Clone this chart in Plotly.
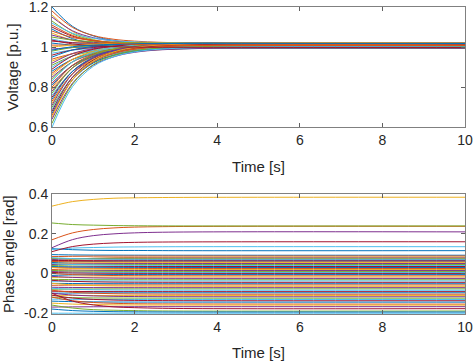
import plotly.graph_objects as go

# Sample times [s]
time_s = [0, 0.5, 1, 1.5, 2, 3, 10]

# Bus voltage trajectories [p.u.] sampled at time_s
voltage_pu = [
    [1.20, 1.103, 1.056, 1.033, 1.021, 1.013, 1.01],
    [1.18, 1.098, 1.058, 1.039, 1.030, 1.022, 1.02],
    [1.16, 1.078, 1.038, 1.019, 1.010, 1.002, 1.00],
    [1.15, 1.081, 1.047, 1.031, 1.023, 1.017, 1.015],
    [1.13, 1.066, 1.035, 1.020, 1.013, 1.007, 1.005],
    [1.12, 1.069, 1.044, 1.032, 1.026, 1.022, 1.02],
    [1.10, 1.054, 1.032, 1.021, 1.015, 1.011, 1.01],
    [1.09, 1.042, 1.018, 1.006, 1.001, 0.996, 0.995],
    [1.08, 1.048, 1.033, 1.025, 1.022, 1.019, 1.018],
    [1.07, 1.034, 1.017, 1.008, 1.004, 1.001, 1.00],
    [1.06, 1.036, 1.024, 1.018, 1.015, 1.013, 1.012],
    [1.05, 1.035, 1.027, 1.024, 1.022, 1.020, 1.02],
    [1.04, 1.022, 1.013, 1.009, 1.007, 1.006, 1.005],
    [1.03, 1.022, 1.019, 1.017, 1.016, 1.015, 1.015],
    [1.02, 1.010, 1.005, 1.002, 1.001, 1.000, 1.00],
    [1.01, 1.010, 1.010, 1.010, 1.010, 1.010, 1.01],
    [1.00, 1.010, 1.015, 1.018, 1.019, 1.020, 1.02],
    [0.99, 0.998, 1.001, 1.003, 1.004, 1.005, 1.005],
    [0.98, 0.998, 1.007, 1.011, 1.013, 1.014, 1.015],
    [0.97, 0.985, 0.993, 0.996, 0.998, 1.000, 1.00],
    [0.96, 0.986, 0.998, 1.004, 1.007, 1.009, 1.01],
    [0.95, 0.986, 1.003, 1.012, 1.016, 1.019, 1.02],
    [0.94, 0.967, 0.982, 0.988, 0.992, 0.994, 0.995],
    [0.93, 0.968, 0.987, 0.996, 1.001, 1.004, 1.005],
    [0.92, 0.968, 0.992, 1.004, 1.009, 1.014, 1.015],
    [0.91, 0.956, 0.978, 0.989, 0.995, 0.999, 1.00],
    [0.90, 0.956, 0.984, 0.997, 1.003, 1.008, 1.01],
    [0.89, 0.956, 0.989, 1.004, 1.012, 1.018, 1.02],
    [0.88, 0.939, 0.967, 0.981, 0.988, 0.993, 0.995],
    [0.87, 0.939, 0.973, 0.989, 0.997, 1.003, 1.005],
    [0.86, 0.939, 0.978, 0.996, 1.006, 1.013, 1.015],
    [0.85, 0.927, 0.964, 0.982, 0.991, 0.998, 1.00],
    [0.84, 0.927, 0.969, 0.990, 1.000, 1.007, 1.01],
    [0.83, 0.927, 0.974, 0.997, 1.009, 1.017, 1.02],
    [0.82, 0.909, 0.953, 0.974, 0.985, 0.992, 0.995],
    [0.81, 0.909, 0.958, 0.982, 0.993, 1.002, 1.005],
    [0.80, 0.910, 0.963, 0.989, 1.002, 1.012, 1.015],
    [0.79, 0.897, 0.950, 0.975, 0.987, 0.997, 1.00],
    [0.78, 0.897, 0.955, 0.982, 0.996, 1.007, 1.01],
    [0.77, 0.898, 0.960, 0.990, 1.005, 1.016, 1.02],
    [0.76, 0.880, 0.939, 0.967, 0.981, 0.991, 0.995],
    [0.75, 0.880, 0.944, 0.974, 0.990, 1.001, 1.005],
    [0.74, 0.880, 0.949, 0.982, 0.999, 1.011, 1.015],
    [0.73, 0.868, 0.935, 0.968, 0.984, 0.996, 1.00],
    [0.72, 0.868, 0.940, 0.975, 0.993, 1.006, 1.01],
    [0.71, 0.868, 0.946, 0.983, 1.001, 1.015, 1.02],
    [0.70, 0.850, 0.924, 0.960, 0.977, 0.991, 0.995],
    [0.69, 0.851, 0.929, 0.967, 0.986, 1.000, 1.005],
    [0.68, 0.851, 0.935, 0.975, 0.995, 1.010, 1.015],
    [0.67, 0.838, 0.921, 0.960, 0.980, 0.995, 1.00],
    [0.66, 0.839, 0.926, 0.968, 0.989, 1.005, 1.01],
    [0.65, 0.839, 0.931, 0.976, 0.998, 1.014, 1.02],
    [0.64, 0.821, 0.910, 0.952, 0.974, 0.990, 0.995],
    [0.62, 0.816, 0.913, 0.959, 0.982, 0.999, 1.005],
    [0.60, 0.804, 0.904, 0.952, 0.976, 0.994, 1.00],
    [1.035, 1.016, 1.007, 1.002, 1.000, 0.999, 0.998],
    [0.985, 1.002, 1.010, 1.014, 1.016, 1.018, 1.018],
    [1.11, 1.058, 1.032, 1.020, 1.014, 1.010, 1.008],
]

# Bus phase-angle trajectories [rad] sampled at time_s
phase_rad = [
    [0.125, 0.120, 0.117, 0.116, 0.116, 0.115, 0.115],
    [0.17, 0.205, 0.222, 0.230, 0.234, 0.237, 0.238],
    [0.34, 0.363, 0.374, 0.380, 0.382, 0.384, 0.385],
    [0.13, 0.171, 0.191, 0.200, 0.205, 0.209, 0.21],
    [0.255, 0.247, 0.244, 0.242, 0.241, 0.240, 0.240],
    [0.12, 0.128, 0.131, 0.133, 0.134, 0.135, 0.135],
    [0.11, 0.136, 0.148, 0.154, 0.157, 0.159, 0.16],
    [0.095, 0.0935, 0.0927, 0.0924, 0.0922, 0.092, 0.092],
    [0.085, 0.0865, 0.0873, 0.0876, 0.0878, 0.088, 0.088],
    [0.06, 0.0712, 0.0767, 0.0794, 0.0807, 0.0817, 0.082],
    [0.07, 0.0741, 0.0761, 0.077, 0.0775, 0.0779, 0.078],
    [0.075, 0.0745, 0.0742, 0.0741, 0.074, 0.074, 0.074],
    [0.08, 0.0749, 0.0724, 0.0712, 0.0706, 0.0702, 0.07],
    [0.065, 0.0655, 0.0658, 0.0659, 0.066, 0.066, 0.066],
    [0.055, 0.0586, 0.0603, 0.0612, 0.0616, 0.0619, 0.062],
    [0.06, 0.059, 0.0585, 0.0582, 0.0581, 0.058, 0.058],
    [0.05, 0.052, 0.053, 0.0535, 0.0538, 0.054, 0.054],
    [0.045, 0.0475, 0.0488, 0.0494, 0.0497, 0.0499, 0.05],
    [0.04, 0.0425, 0.0438, 0.0444, 0.0447, 0.0449, 0.045],
    [0.05, 0.0449, 0.0424, 0.0412, 0.0406, 0.0402, 0.04],
    [0.03, 0.0325, 0.0338, 0.0344, 0.0347, 0.0349, 0.035],
    [0.035, 0.0325, 0.0312, 0.0306, 0.0303, 0.0301, 0.03],
    [0.02, 0.0225, 0.0238, 0.0244, 0.0247, 0.0249, 0.025],
    [0.03, 0.0249, 0.0224, 0.0212, 0.0206, 0.0202, 0.02],
    [0.01, 0.0125, 0.0138, 0.0144, 0.0147, 0.0149, 0.015],
    [0.015, 0.0125, 0.0112, 0.0106, 0.0103, 0.0101, 0.01],
    [0.0, 0.0025, 0.0038, 0.0044, 0.0047, 0.0049, 0.005],
    [0.005, 0.0025, 0.0012, 0.0006, 0.0003, 0.0001, 0.0],
    [-0.01, -0.0075, -0.0062, -0.0056, -0.0053, -0.0051, -0.005],
    [0.0, -0.0061, -0.0091, -0.0106, -0.0113, -0.0118, -0.012],
    [-0.02, -0.019, -0.0185, -0.0182, -0.0181, -0.018, -0.018],
    [-0.015, -0.0201, -0.0226, -0.0238, -0.0244, -0.0248, -0.025],
    [-0.03, -0.031, -0.0315, -0.0318, -0.0319, -0.032, -0.032],
    [-0.04, -0.039, -0.0385, -0.0382, -0.0381, -0.038, -0.038],
    [-0.035, -0.0401, -0.0426, -0.0438, -0.0444, -0.0448, -0.045],
    [-0.05, -0.051, -0.0515, -0.0518, -0.0519, -0.052, -0.052],
    [-0.06, -0.059, -0.0585, -0.0582, -0.0581, -0.058, -0.058],
    [-0.05, -0.0577, -0.0614, -0.0632, -0.0641, -0.0648, -0.065],
    [-0.07, -0.071, -0.0715, -0.0718, -0.0719, -0.072, -0.072],
    [-0.08, -0.079, -0.0785, -0.0782, -0.0781, -0.078, -0.078],
    [-0.075, -0.0801, -0.0826, -0.0838, -0.0844, -0.0848, -0.085],
    [-0.09, -0.091, -0.0915, -0.0918, -0.0919, -0.092, -0.092],
    [-0.10, -0.099, -0.0985, -0.0982, -0.0981, -0.098, -0.098],
    [-0.085, -0.0952, -0.1002, -0.1026, -0.1038, -0.1047, -0.105],
    [-0.11, -0.111, -0.1115, -0.1118, -0.1119, -0.112, -0.112],
    [-0.10, -0.1092, -0.1137, -0.1158, -0.1169, -0.1177, -0.118],
    [-0.12, -0.1225, -0.1238, -0.1244, -0.1247, -0.1249, -0.125],
    [-0.13, -0.131, -0.1315, -0.1318, -0.1319, -0.132, -0.132],
    [-0.11, -0.1243, -0.1313, -0.1346, -0.1363, -0.1376, -0.138],
    [-0.14, -0.1425, -0.1438, -0.1444, -0.1447, -0.1449, -0.145],
    [-0.12, -0.138, -0.147, -0.151, -0.153, -0.154, -0.155],
    [-0.15, -0.1551, -0.1576, -0.1588, -0.1594, -0.1598, -0.16],
    [-0.17, -0.169, -0.1685, -0.1682, -0.1681, -0.168, -0.168],
    [-0.16, -0.175, -0.183, -0.186, -0.188, -0.190, -0.19],
    [-0.201, -0.201, -0.201, -0.201, -0.201, -0.201, -0.201],
    [-0.10, -0.140, -0.159, -0.169, -0.173, -0.177, -0.178],
    [-0.18, -0.1877, -0.1914, -0.1932, -0.1941, -0.1948, -0.195],
]

x_tick_vals = [0, 2, 4, 6, 8, 10]
x_tick_text = ["0", "2", "4", "6", "8", "10"]
v_tick_vals = [0.6, 0.8, 1.0, 1.2]
v_tick_text = ["0.6", "0.8", "1", "1.2"]
p_tick_vals = [-0.2, 0, 0.2, 0.4]
p_tick_text = ["-0.2", "0", "0.2", "0.4"]

colors = ["#0072BD", "#D95319", "#EDB120", "#7E2F8E", "#77AC30", "#4DBEEE", "#A2142F"]

fig = go.Figure()
for i, ys in enumerate(voltage_pu):
    fig.add_trace(go.Scatter(x=time_s, y=ys, mode="lines", line_shape="spline",
                             line=dict(color=colors[i % 7], width=1),
                             xaxis="x", yaxis="y", showlegend=False, hoverinfo="skip"))
for i, ys in enumerate(phase_rad):
    fig.add_trace(go.Scatter(x=time_s, y=ys, mode="lines", line_shape="spline",
                             line=dict(color=colors[i % 7], width=1),
                             xaxis="x2", yaxis="y2", showlegend=False, hoverinfo="skip"))

font = "Arial, Liberation Sans, Helvetica, sans-serif"
axis_common = dict(showgrid=False, zeroline=False, showline=True, linecolor="#808080",
                   linewidth=1, mirror="ticks", ticks="inside", ticklen=4,
                   tickcolor="#606060", automargin=False, ticklabeloverflow="allow",
                   tickfont=dict(size=14, color="#262626", family=font))

title_font = dict(size=15, color="#262626", family=font)

fig.update_layout(
    width=474, height=363,
    margin=dict(l=52, r=9, t=7, b=49),
    paper_bgcolor="white", plot_bgcolor="white",
    font=dict(family=font, color="#262626"),
    xaxis=dict(domain=[0, 1], anchor="y", range=[0, 10], tickvals=x_tick_vals,
               ticktext=x_tick_text,
               title=dict(text="Time [s]", font=title_font, standoff=14), **axis_common),
    yaxis=dict(domain=[0.608, 1.0], anchor="x", range=[0.6, 1.2], tickvals=v_tick_vals,
               ticktext=v_tick_text,
               title=dict(text="Voltage [p.u.]", font=title_font, standoff=6), **axis_common),
    xaxis2=dict(domain=[0, 1], anchor="y2", range=[0, 10], tickvals=x_tick_vals,
                ticktext=x_tick_text,
                title=dict(text="Time [s]", font=title_font, standoff=13), **axis_common),
    yaxis2=dict(domain=[0, 0.39], anchor="x2", range=[-0.205, 0.4], tickvals=p_tick_vals,
                ticktext=p_tick_text,
                title=dict(text="Phase angle [rad]", font=title_font, standoff=5), **axis_common),
)

fig.write_html("out.html", config={"displayModeBar": False, "staticPlot": True},
               post_script="document.body.style.margin='0';document.body.style.padding='0';")
